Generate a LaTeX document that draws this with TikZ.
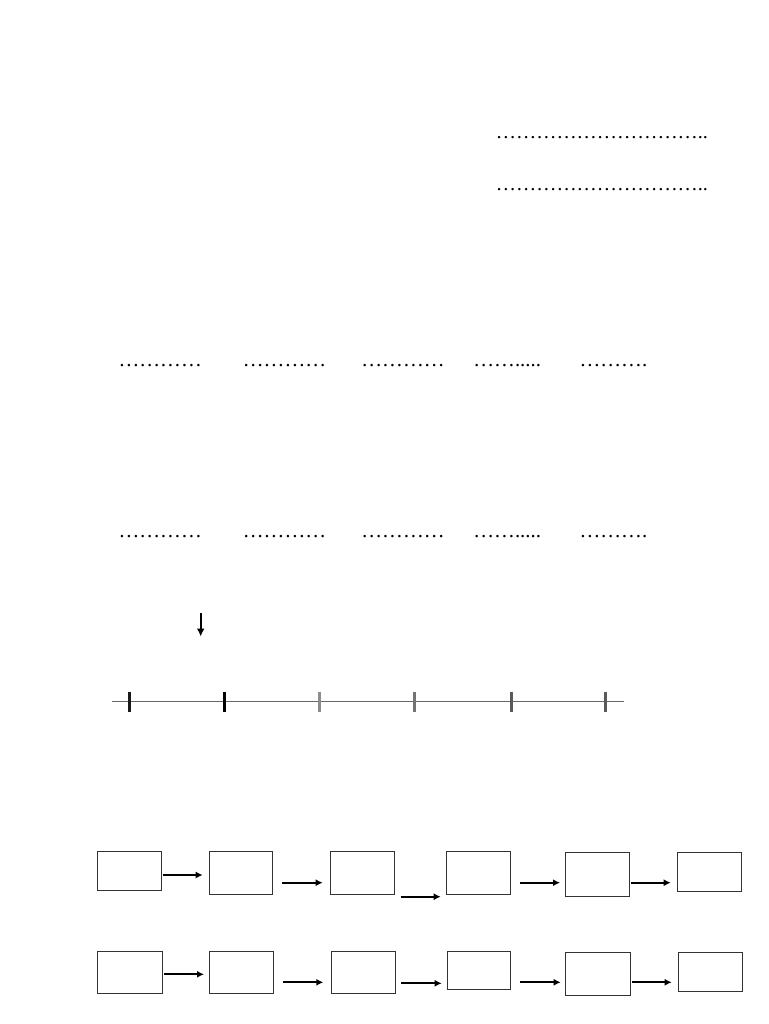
\documentclass[tikz,border=0pt]{standalone}
\usepackage{fontspec}
\setmainfont{Liberation Serif}
\usepackage{tikz}
\usetikzlibrary{arrows.meta}

\newcommand{\blankfull}{…………}
\newcommand{\blankdots}{…….....}
\newcommand{\blankshort}{……….}

\begin{document}
\begin{tikzpicture}[x=1pt,y=-1pt,-]
            \tikzstyle{box}=[rectangle,draw=black!80,line width=1pt,inner sep=0pt]
            \tikzstyle{gap}=[inner sep=0pt,anchor=base west,font=\fontsize{20.8}{25}\selectfont]
            \tikzstyle{line}=[gap,font=\fontsize{20.2}{24}\selectfont]
            \tikzstyle{arr}=[-{Latex[length=7pt,width=7pt]},line width=2pt]
            \useasboundingbox (0,0) rectangle (768,1024);

                % answer lines top right
                \node[line] (L-1) at (495.7,138.7) {…………………………..};
                \node[line] (L-2) at (495.7,190.4) {…………………………..};

                % two rows of blanks
                \foreach \r/\y in {1/366.4, 2/537.1}
                    \foreach \g/\x/\t in {1/118.4/\blankfull, 2/242.7/\blankfull, 3/361.2/\blankfull, 4/473.2/\blankdots, 5/579.4/\blankshort}
                        \node[gap] (G-\r-\g) at (\x,\y) {\t};

                % number line
                \coordinate (N-a) at (111.7,701.5);
                \coordinate (N-b) at (624.3,701.5);
                \draw[black!60,line width=1.5pt] (N-a) -- (N-b);
                \foreach \x/\c in {129.3/black!90, 224.3/black, 319.3/black!45, 414.3/black!55, 511/black!65, 605.7/black!65}
                    \draw[\c,line width=3pt] (\x,691.7) -- (\x,711.7);

                \coordinate (D-a) at (200.7,613);
                \coordinate (D-b) at (200.7,636.5);
                \draw[-{Latex[length=8pt,width=8pt]},line width=2pt] (D-a) -- (D-b);

                % boxes
                \foreach \n/\x/\y/\w/\h in {1/129.3/870.5/64/39, 2/241/872.7/63.4/43.3, 3/362.3/872.7/64/43.3,
                        4/478.2/872.7/64.3/43.3, 5/597.2/874.7/63.7/44, 6/709.7/872.2/64/39,
                        7/129.8/972.2/65/42.3, 8/241.5/972.2/64.4/42.3, 9/363.3/972.2/64/42.3,
                        10/478.8/970.2/63/38.3, 11/597.7/974.2/64.7/43, 12/710.8/972.2/63.7/39}
                    \node[box,minimum width=\w,minimum height=\h] (B-\n) at (\x,\y) {};

                % arrows between boxes
                \foreach \n/\xa/\xb/\y in {1/162.7/202.7/875, 2/282/322.7/882.7, 3/400.7/440.7/896.7,
                        4/520/560/882.7, 5/630.7/670.7/882.7,
                        6/164/204/974.3, 7/282.7/323.3/982.3, 8/401/441.7/983.3,
                        9/520/560.7/982.3, 10/631.7/671.7/982.3}
                {
                    \coordinate (S-\n) at (\xa,\y);
                    \coordinate (E-\n) at (\xb,\y);
                    \draw[arr] (S-\n) -- (E-\n);
                }
        \end{tikzpicture}
\end{document}
